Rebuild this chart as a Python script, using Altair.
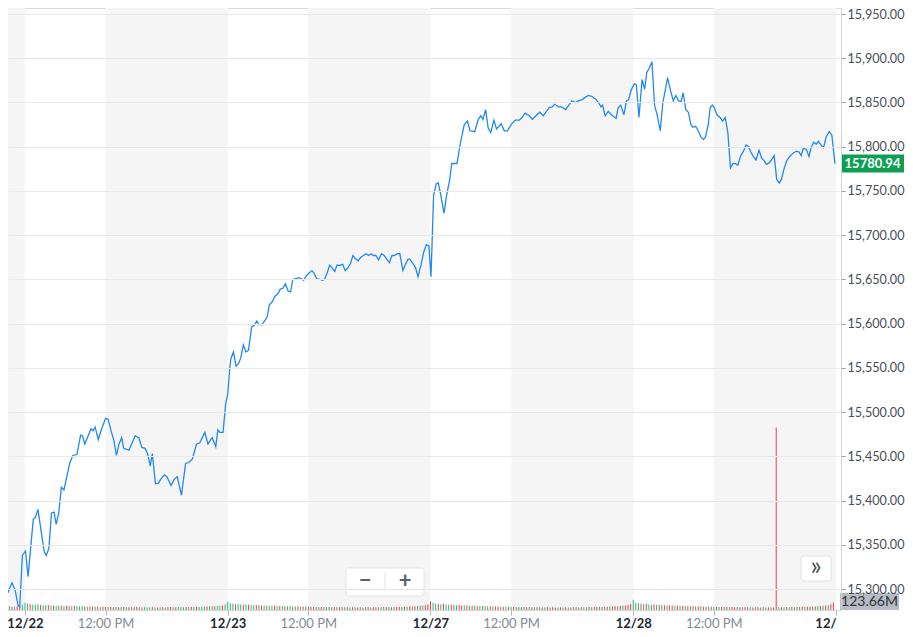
import altair as alt
import pandas as pd

# ---------------- data ----------------
# x = trading minutes measured from the 12/22 open (negative = tail of 12/21)
T_A = [-38, -35, -25, -19, -13, -10, -5, 1, 6, 16, 20, 25, 37, 41, 46, 51, 56, 60, 65, 70,
       75, 79, 86, 92, 100, 107, 111, 115, 120, 127, 131, 135, 141, 147, 155, 160, 166, 171, 176, 181,
       186, 190, 200, 206, 212, 219, 225, 231, 236, 241, 245, 251, 257, 261, 268, 273, 281, 287, 293, 301,
       309, 315, 322, 330, 336, 346, 352, 360, 367, 371, 375, 381]
P_A = [15310, 15293, 15307, 15299, 15281, 15280, 15338, 15343, 15314, 15379,
       15381, 15390, 15342, 15338, 15346, 15386, 15387, 15373, 15386, 15415,
       15412, 15423, 15442, 15451, 15452, 15474, 15473, 15464, 15471, 15481,
       15479, 15483, 15469, 15480, 15493, 15492, 15478, 15468, 15451, 15464,
       15471, 15459, 15457, 15465, 15473, 15471, 15460, 15459, 15453, 15439,
       15453, 15419, 15420, 15424, 15429, 15427, 15417, 15424, 15427, 15406,
       15442, 15443, 15447, 15464, 15465, 15477, 15464, 15471, 15461, 15480,
       15477, 15477]

T_B = [386, 390, 394, 396, 401, 406, 411, 415, 420, 425, 430, 436, 441, 446, 450, 456, 462, 466, 470, 476,
       481, 487, 491, 496, 501, 506, 511, 515, 521, 527, 531, 536, 541, 546, 552, 556, 561, 567, 573, 577,
       581, 586, 591, 596, 600, 605, 611, 616, 621, 626, 631, 636, 641, 646, 651, 656, 661, 666, 670, 675,
       680, 686, 691, 696, 701, 706, 711, 716, 721, 727, 732, 737, 740, 746, 751, 756, 762, 767, 772, 777,
       781]
P_B = [15509, 15520, 15550, 15560, 15568, 15552, 15555, 15561, 15576, 15568,
       15570, 15596, 15598, 15603, 15599, 15599, 15604, 15608, 15621, 15625,
       15631, 15634, 15639, 15640, 15645, 15637, 15636, 15650, 15651, 15652,
       15651, 15649, 15654, 15657, 15660, 15657, 15651, 15650, 15649, 15651,
       15657, 15666, 15663, 15659, 15666, 15666, 15667, 15660, 15663, 15668,
       15677, 15673, 15671, 15675, 15677, 15679, 15677, 15679, 15677, 15677,
       15672, 15679, 15677, 15673, 15669, 15677, 15677, 15679, 15679, 15660,
       15667, 15673, 15673, 15668, 15664, 15653, 15667, 15681, 15689, 15688,
       15653]

T_C = [786, 791, 795, 800, 806, 811, 817, 821, 831, 836, 840, 845, 851, 856, 865, 872, 877, 881, 886, 891,
       896, 902, 907, 916, 922, 928, 935, 943, 951, 956, 962, 970, 976, 983, 990, 997, 1002, 1008, 1014, 1019,
       1026, 1032, 1040, 1046, 1052, 1059, 1065, 1071, 1078, 1084, 1090, 1097, 1103, 1108, 1111, 1116, 1122,
       1128, 1137, 1141, 1146, 1152, 1157, 1161, 1166, 1172, 1176, 1181, 1187]
P_C = [15745, 15758, 15759, 15745, 15725, 15745, 15763, 15781, 15781, 15799,
       15811, 15825, 15829, 15818, 15817, 15831, 15835, 15831, 15842, 15821,
       15816, 15830, 15820, 15826, 15818, 15818, 15825, 15830, 15830, 15833,
       15838, 15835, 15831, 15835, 15839, 15835, 15839, 15844, 15845, 15848,
       15845, 15845, 15842, 15847, 15852, 15850, 15852, 15853, 15856, 15858,
       15857, 15854, 15850, 15845, 15847, 15835, 15840, 15836, 15832, 15844,
       15847, 15836, 15852, 15853, 15864, 15871, 15870, 15833, 15876]

T_D = [1192, 1196, 1201, 1206, 1211, 1216, 1222, 1227, 1232, 1236, 1241, 1247, 1252, 1257, 1262, 1266,
       1271, 1276, 1281, 1285, 1290, 1295, 1300, 1305, 1309, 1314, 1318, 1322, 1326, 1331, 1337, 1342,
       1347, 1352, 1357, 1362, 1366, 1371, 1377, 1382, 1387, 1392, 1396, 1401, 1406, 1412, 1417, 1422,
       1426, 1432, 1436, 1441, 1446, 1451, 1455, 1460, 1465, 1471, 1478, 1484, 1489, 1493, 1497, 1503,
       1508, 1512, 1517, 1522, 1526, 1531, 1536, 1541, 1547, 1552, 1558]
P_D = [15865, 15884, 15889, 15896, 15847, 15836, 15818, 15850, 15865, 15878,
       15865, 15852, 15858, 15852, 15851, 15861, 15842, 15839, 15825, 15822,
       15823, 15818, 15811, 15808, 15811, 15824, 15844, 15847, 15844, 15836,
       15833, 15829, 15833, 15816, 15776, 15781, 15781, 15779, 15790, 15795,
       15802, 15800, 15794, 15789, 15785, 15796, 15787, 15784, 15780, 15782,
       15785, 15790, 15763, 15759, 15763, 15775, 15784, 15789, 15793, 15795,
       15794, 15790, 15798, 15797, 15789, 15799, 15805, 15803, 15806, 15802,
       15799, 15811, 15817, 15813, 15780.94]

LAST_PRICE = 15780.94
LAST_VOLUME_M = 123.66

# 5-minute volume bars (millions); g = up bar, r = down bar
VOL_PRE = [55, 60, 52, 58, 62, 70, 85]
DIR_PRE = "rgrgrrg"
VOL_1222 = [120, 105, 98, 92, 88, 95, 84, 80, 78, 82, 75, 72, 70, 74, 68, 66, 70, 64, 62, 66,
            60, 58, 62, 56, 55, 58, 54, 52, 56, 50, 52, 48, 50, 52, 47, 49, 46, 50, 48, 45,
            47, 46, 44, 48, 45, 43, 46, 44, 42, 45, 47, 43, 44, 46, 42, 45, 48, 44, 46, 49,
            45, 47, 50, 48, 52, 49, 53, 51, 55, 53, 57, 56, 60, 62, 66, 70, 78, 92]
DIR_1222 = "ggrgggrggr" "grggrgrrgr" "gggrgrrgrg" "rrgrrgrgrg" "rgrrgrgggr" "grgrgrrgrg" "ggrgrgrggg" "rggrggrg"
VOL_1223 = [135, 112, 104, 96, 100, 92, 88, 94, 85, 82, 80, 84, 78, 75, 72, 76, 70, 68, 72, 66,
            64, 67, 62, 60, 64, 58, 57, 60, 55, 54, 57, 52, 50, 54, 49, 51, 48, 50, 47, 49,
            46, 48, 45, 47, 44, 46, 45, 43, 46, 44, 42, 45, 43, 46, 44, 42, 45, 47, 44, 46,
            48, 45, 49, 47, 51, 49, 53, 50, 54, 52, 56, 58, 61, 64, 68, 73, 80, 96]
DIR_1223 = "gggrggrgrg" "grgrgrggrg" "rgrggrgrgr" "grrgrgrggr" "grgrrgrgrg" "rgrgrgrrgr" "grgrgrrgrg" "rgrgrgrr"
VOL_1227 = [140, 118, 106, 100, 95, 102, 90, 86, 92, 84, 80, 83, 76, 74, 78, 71, 69, 73, 66, 64,
            67, 62, 60, 63, 58, 56, 59, 54, 53, 56, 51, 50, 53, 48, 50, 47, 49, 46, 48, 45,
            47, 44, 46, 43, 45, 44, 42, 45, 43, 41, 44, 42, 45, 43, 41, 44, 46, 43, 45, 47,
            44, 48, 46, 50, 48, 52, 50, 54, 52, 56, 58, 60, 63, 66, 70, 76, 84, 98]
DIR_1227 = "rggrgrggrg" "grrgrgrgrg" "grgrgrrgrg" "rgrggrgrgr" "grgrgrgrrg" "rgrgrgrgrg" "grgrrgrgrg" "rrgrgrrr"
VOL_1228 = [170, 120, 110, 102, 96, 100, 92, 88, 94, 86, 82, 85, 78, 76, 80, 73, 70, 74, 68, 66,
            68, 63, 61, 64, 59, 57, 60, 55, 54, 57, 52, 51, 54, 49, 51, 48, 50, 47, 49, 46,
            48, 45, 47, 44, 46, 45, 43, 46, 44, 42, 45, 43, 44, 46, 43, 3000, 47, 44, 46, 48,
            45, 49, 47, 51, 49, 53, 51, 55, 53, 57, 59, 62, 65, 68, 72, 80, 95, 123.66]
DIR_1228 = "gggrgrggrg" "rgrgrrgrgr" "grgrgrgrrg" "rgrgrgrgrr" "grgrrgrgrg" "rgrgrrgrgr" "grgrgrgrrg" "rgrgrgrr"

DAY_OPEN = [0, 390, 780, 1170]
BAR_MIN = 5

X_DOMAIN = [-23, 1560]
X_TICKS = [0, 155, 390, 545, 780, 935, 1170, 1325, 1560]
X_LABELS = ["12/22", "12:00 PM", "12/23", "12:00 PM", "12/27", "12:00 PM", "12/28", "12:00 PM", "12/"]
Y_DOMAIN = [15276.3, 15956.8]
Y_TICKS = [15300, 15350, 15400, 15450, 15500, 15550, 15600, 15650, 15700, 15750, 15800, 15850, 15900, 15950]
BAND_START = [-38, 155, 545, 935, 1325]
BAND_END = [0, 390, 780, 1170, 1560]
VOL_MAX = 9900

W, H = 833, 602
BLUE = "#2189f0"
GREEN = "#2bb673"
RED = "#f03e4c"
TAG_GREEN = "#0e9f55"

# ---------------- tables ----------------
price_df = pd.DataFrame({"t": T_A + T_B + T_C + T_D, "price": P_A + P_B + P_C + P_D})

rows = []
for i, (v, d) in enumerate(zip(VOL_PRE, DIR_PRE)):
    rows.append({"t": -BAR_MIN * (len(VOL_PRE) - i), "vol": v, "dir": "up" if d == "g" else "down"})
for start, vols, dirs in zip(DAY_OPEN, [VOL_1222, VOL_1223, VOL_1227, VOL_1228],
                             [DIR_1222, DIR_1223, DIR_1227, DIR_1228]):
    for i, (v, d) in enumerate(zip(vols, dirs)):
        rows.append({"t": start + BAR_MIN * i, "vol": v, "dir": "up" if d == "g" else "down"})
vol_df = pd.DataFrame(rows)

band_df = pd.DataFrame({"t0": BAND_START, "t1": BAND_END})
tag_df = pd.DataFrame({"price": [LAST_PRICE]})
vlab_df = pd.DataFrame({"label": [f"{LAST_VOLUME_M:.2f}M"]})

# ---------------- axes / scales ----------------
label_expr = " : ".join(f"datum.value == {v} ? '{l}'" for v, l in zip(X_TICKS, X_LABELS)) + " : ''"
noon_vals = [v for v, l in zip(X_TICKS, X_LABELS) if l == "12:00 PM"]
noon_test = f"indexof({noon_vals}, datum.value) >= 0"

x_axis = alt.Axis(
    values=X_TICKS, labelExpr=label_expr, title=None, grid=False,
    domainColor="#d6d6d6", tickColor="#b5b5b5", tickSize=5, labelPadding=2,
    labelFontSize=13, labelFlush=False, labelOverlap=False,
    labelColor={"condition": {"test": noon_test, "value": "#838b92"}, "value": "#232a31"},
    labelFontWeight={"condition": {"test": noon_test, "value": "normal"}, "value": "bold"},
    labelAlign={"condition": {"test": f"datum.value == {X_TICKS[-1]}", "value": "right"}, "value": "center"},
)
x_scale = alt.Scale(domain=X_DOMAIN, nice=False, zero=False)


def make_x(field):
    return alt.X(f"{field}:Q", scale=x_scale, axis=x_axis)


y_axis = alt.Axis(
    orient="right", values=Y_TICKS, format=",.2f", title=None, grid=True,
    gridColor="#e9e9e9", gridWidth=1, domainColor="#d4d4d4", tickColor="#9a9a9a",
    tickSize=4, labelPadding=2, labelFontSize=12.6, labelColor="#464e56",
    zindex=1, labelFlush=False, labelOverlap=False,
)
y_scale = alt.Scale(domain=Y_DOMAIN, nice=False, zero=False)


def make_y(field):
    return alt.Y(f"{field}:Q", scale=y_scale, axis=y_axis)


def box_path(w, h):
    r = h / w
    return f"M-1,-{r:.4f}L1,-{r:.4f}L1,{r:.4f}L-1,{r:.4f}Z"


# ---------------- layers ----------------
bands = alt.Chart(band_df).mark_rect(color="#f5f5f5", clip=True).encode(
    x=make_x("t0"), x2="t1", y=alt.value(0), y2=alt.value(H)
)

vol = alt.Chart(vol_df).mark_bar(width=1, clip=True).encode(
    x=make_x("t"),
    y=alt.Y("vol:Q", scale=alt.Scale(domain=[0, VOL_MAX]), axis=None),
    color=alt.Color("dir:N", scale=alt.Scale(domain=["up", "down"], range=[GREEN, RED]), legend=None),
)

line = alt.Chart(price_df).mark_line(color=BLUE, strokeWidth=1.3, clip=True).encode(
    x=make_x("t"), y=make_y("price")
)

tag = alt.Chart(tag_df).mark_point(
    shape=box_path(63, 18), size=63 * 63, filled=True, color=TAG_GREEN, opacity=1, strokeWidth=0
).encode(x=alt.value(864.5), y=make_y("price"))

tag_text = alt.Chart(tag_df).mark_text(color="white", fontWeight="bold", fontSize=13).encode(
    x=alt.value(864.5), y=make_y("price"), text=alt.Text("price:Q", format=".2f")
)

price_group = alt.layer(line, tag, tag_text)

vbox = alt.Chart(vlab_df).mark_point(
    shape=box_path(59, 17), size=59 * 59, filled=True, color="#b7bcc4", opacity=1, strokeWidth=0
).encode(x=alt.value(861.5), y=alt.value(593.5))
vtext = alt.Chart(vlab_df).mark_text(color="#2c3339", fontSize=14).encode(
    x=alt.value(861.5), y=alt.value(594), text="label:N"
)

# zoom controls
btn_df = pd.DataFrame({"s": ["-"]})
zbox = alt.Chart(btn_df).mark_rect(fill="white", stroke="#e2e2e2", cornerRadius=3).encode(
    x=alt.value(338), x2=alt.value(416), y=alt.value(560), y2=alt.value(588)
)
zdiv = alt.Chart(btn_df).mark_rule(color="#e4e4e4").encode(
    x=alt.value(377), y=alt.value(564), y2=alt.value(584)
)
minus = alt.Chart(pd.DataFrame({"s": ["\u2212"]})).mark_text(fontSize=22, fontWeight="bold", color="#5b636a").encode(
    x=alt.value(357), y=alt.value(573), text="s:N"
)
plus = alt.Chart(pd.DataFrame({"s": ["+"]})).mark_text(fontSize=22, fontWeight="bold", color="#5b636a").encode(
    x=alt.value(397), y=alt.value(573), text="s:N"
)
fbox = alt.Chart(btn_df).mark_rect(fill="white", stroke="#e2e2e2", cornerRadius=3).encode(
    x=alt.value(793), x2=alt.value(823), y=alt.value(548), y2=alt.value(573)
)
fwd = alt.Chart(pd.DataFrame({"s": ["\u00bb"]})).mark_text(fontSize=26, color="#464e56").encode(
    x=alt.value(808), y=alt.value(559), text="s:N"
)

chart = alt.layer(
    bands, vol, price_group, vbox, vtext, zbox, zdiv, minus, plus, fbox, fwd
).resolve_scale(y="independent").properties(
    width=W, height=H,
    autosize=alt.AutoSizeParams(type="none"),
    padding={"left": 0, "top": 0, "right": 64, "bottom": 19},
).configure_view(stroke=None).configure(font="Lato", background="white")

chart.save("out.html", embed_options={"renderer": "svg", "actions": False})
